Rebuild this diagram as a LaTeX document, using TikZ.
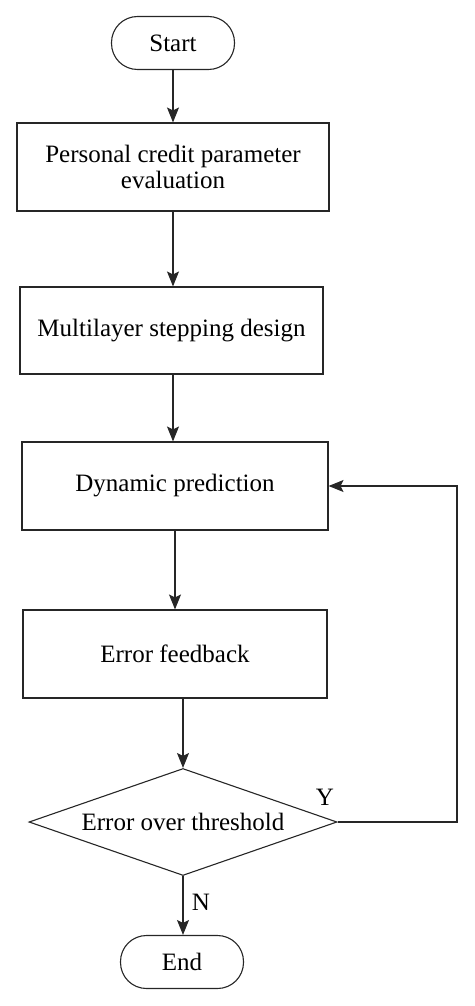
\documentclass[tikz,border=0pt]{standalone}
\usepackage{fontspec}
\setmainfont{Liberation Serif}
\usepackage{tikz}
\usetikzlibrary{shapes.geometric,arrows.meta}

\begin{document}
\begin{tikzpicture}[x=1pt, y=-1pt, line width=1.1pt, color=black!85,
	every node/.style={font=\fontsize{25}{29}\selectfont, text=black},
	startstop/.style={draw, rounded corners=26pt, minimum width=123pt, minimum height=53pt, inner sep=0pt},
	process/.style={draw, rectangle, minimum height=88pt, inner sep=0pt, align=center},
	decision/.style={draw, diamond, shape aspect=2.88, minimum width=308pt, minimum height=107pt, inner sep=0pt},
	flow/.style={-{Stealth[length=15pt, width=12pt, inset=3pt]}}]
	\useasboundingbox (0,0) rectangle (474,1006);
	\node[startstop] (start) at (173,43) {Start};
	\node[process, minimum width=312pt] (eval) at (173,167) {Personal credit parameter\\[-3pt]evaluation};
	\node[process, minimum width=303pt, minimum height=87pt] (layer) at (171.5,330.5) {Multilayer stepping design};
	\node[process, minimum width=306pt] (pred) at (175,486) {Dynamic prediction};
	\node[process, minimum width=304pt] (feed) at (175,654) {Error feedback};
	\node[decision] (check) at (183,822) {Error over threshold};
	\node[startstop] (end) at (182,962) {End};
	\node (ylab) at (325,797) {Y};
	\node (nlab) at (201,902) {N};
	\coordinate (back) at (457,822);
	\draw[flow] (start) -- (eval);
	\draw[flow] (eval.south) -- (eval.south |- layer.north);
	\draw[flow] (eval.south |- layer.south) -- (eval.south |- pred.north);
	\draw[flow] (pred.south) -- (pred.south |- feed.north);
	\draw[flow] (check.north |- feed.south) -- (check.north);
	\draw[flow] (check.south) -- (end.north -| check.south);
	\draw[flow] (check.east) -- (back) |- (pred.east);
\end{tikzpicture}
\end{document}
